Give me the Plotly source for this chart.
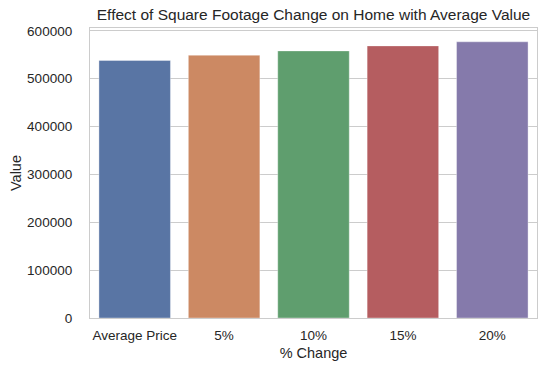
import plotly.graph_objects as go

categories = ["Average Price", "5%", "10%", "15%", "20%"]
values = [538000, 549000, 558000, 568500, 577000]
colors = ["#5975a4", "#cc8963", "#5f9e6e", "#b55d60", "#857aab"]
y_ticks = [0, 100000, 200000, 300000, 400000, 500000, 600000]

fig = go.Figure()
fig.add_trace(go.Bar(
    x=list(range(len(categories))), y=values,
    marker=dict(color=colors, line=dict(width=0.6, color="rgba(255,255,255,0.6)")),
    width=0.8,
))

font = "Liberation Sans, Arial, sans-serif"
fig.update_layout(
    width=546, height=372,
    margin=dict(l=90, r=9, t=28, b=54),
    paper_bgcolor="white", plot_bgcolor="white",
    showlegend=False,
    bargap=0.2,
    title=dict(text="Effect of Square Footage Change on Home with Average Value",
               x=0.5, xref="paper", xanchor="center",
               y=1 - 15/372, yref="container", yanchor="middle",
               font=dict(family=font, size=15.5, color="#262626")),
    font=dict(family=font, size=13.5, color="#262626"),
)
fig.update_xaxes(
    range=[-0.5, 4.5],
    tickmode="array", tickvals=list(range(len(categories))), ticktext=categories,
    showgrid=False, zeroline=False,
    showline=True, linecolor="#cccccc", linewidth=1.25, mirror=True,
    ticks="", ticklabelstandoff=5,
    tickfont=dict(family=font, size=13.5, color="#262626"),
    title=dict(text="% Change", font=dict(family=font, size=14.5, color="#262626"), standoff=5),
)
fig.update_yaxes(
    range=[0, 605850],
    tickmode="array", tickvals=y_ticks, ticktext=[str(v) for v in y_ticks],
    showgrid=True, gridcolor="#cccccc", gridwidth=1,
    zeroline=False,
    showline=True, linecolor="#cccccc", linewidth=1.25, mirror=True,
    ticks="", ticklabelstandoff=14,
    tickfont=dict(family=font, size=13.5, color="#262626"),
    title=dict(text="Value", font=dict(family=font, size=14.5, color="#262626"), standoff=2),
)

fig.write_html("out.html")
